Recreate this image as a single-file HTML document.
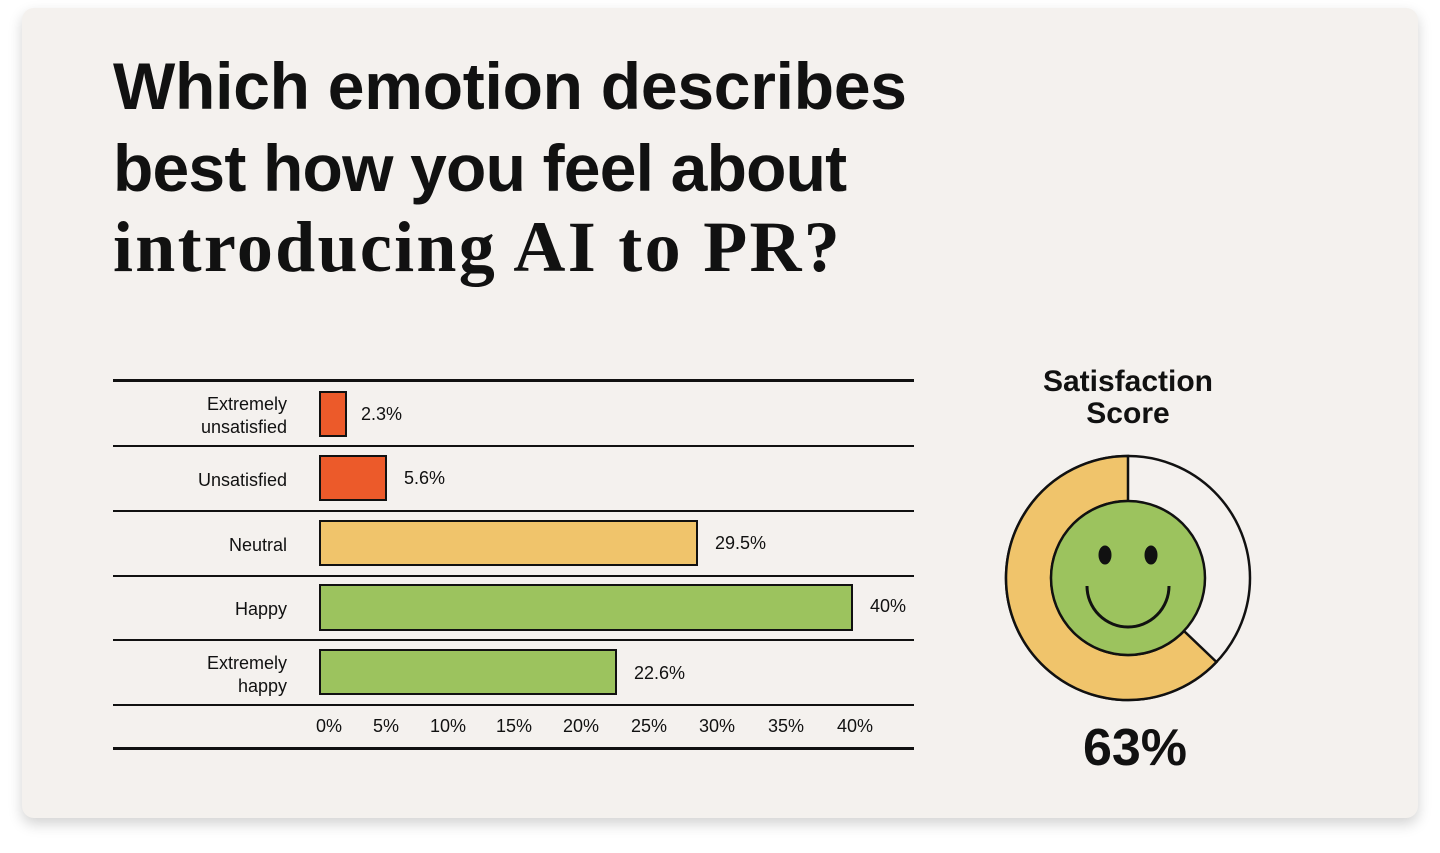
<!DOCTYPE html>
<html><head><style>
body{margin:0;width:1440px;height:853px;background:#fff;font-family:"Liberation Sans",sans-serif;overflow:hidden}
.card{position:absolute;left:22px;top:8px;width:1396px;height:810px;background:#f4f1ee;border-radius:12px;box-shadow:0 6px 14px rgba(0,0,0,0.18)}
.t{position:absolute;left:113px;font-weight:bold;color:#111;white-space:nowrap}
.l{position:absolute;font-size:18px;color:#111;text-align:right;right:1153px;line-height:23px}
.v{position:absolute;font-size:18px;color:#111}
.x{position:absolute;top:716px;font-size:18px;color:#111;transform:translateX(-50%)}
.hl{position:absolute;left:113px;width:801px;background:#111}
.bar{position:absolute;left:319px;border:2px solid #111;box-sizing:border-box}
</style></head><body>
<div class="card"></div>
<div class="t" style="top:48px;font-size:66px;letter-spacing:-0.25px">Which emotion describes</div>
<div class="t" style="top:130px;font-size:66px;letter-spacing:-0.8px">best how you feel about</div>
<div class="t" style="top:206px;font-size:72px;font-family:'Liberation Serif',serif;letter-spacing:2.3px">introducing AI to PR?</div>

<div class="hl" style="top:379px;height:3px"></div>
<div class="hl" style="top:445px;height:2px"></div>
<div class="hl" style="top:510px;height:2px"></div>
<div class="hl" style="top:575px;height:2px"></div>
<div class="hl" style="top:639px;height:2px"></div>
<div class="hl" style="top:704px;height:2px"></div>
<div class="hl" style="top:747px;height:3px"></div>

<div class="l" style="top:393px">Extremely<br>unsatisfied</div>
<div class="l" style="top:469px">Unsatisfied</div>
<div class="l" style="top:534px">Neutral</div>
<div class="l" style="top:598px">Happy</div>
<div class="l" style="top:652px">Extremely<br>happy</div>

<div class="bar" style="top:391px;height:46px;width:28px;background:#ec5a2a"></div>
<div class="bar" style="top:455px;height:46px;width:68px;background:#ec5a2a"></div>
<div class="bar" style="top:520px;height:46px;width:379px;background:#f0c46b"></div>
<div class="bar" style="top:584px;height:47px;width:534px;background:#9cc35e"></div>
<div class="bar" style="top:649px;height:46px;width:298px;background:#9cc35e"></div>

<div class="v" style="left:361px;top:404px">2.3%</div>
<div class="v" style="left:404px;top:468px">5.6%</div>
<div class="v" style="left:715px;top:533px">29.5%</div>
<div class="v" style="left:870px;top:596px">40%</div>
<div class="v" style="left:634px;top:663px">22.6%</div>

<div class="x" style="left:329px">0%</div>
<div class="x" style="left:386px">5%</div>
<div class="x" style="left:448px">10%</div>
<div class="x" style="left:514px">15%</div>
<div class="x" style="left:581px">20%</div>
<div class="x" style="left:649px">25%</div>
<div class="x" style="left:717px">30%</div>
<div class="x" style="left:786px">35%</div>
<div class="x" style="left:855px">40%</div>

<div style="position:absolute;left:1028px;width:200px;top:366px;text-align:center;font-size:30px;font-weight:bold;line-height:32px;color:#111">Satisfaction<br>Score</div>
<svg style="position:absolute;left:0;top:0" width="1440" height="853">
<circle cx="1128" cy="578" r="122" fill="#f4f1ee" stroke="#111" stroke-width="2.5"/>
<path d="M1128 456 A122 122 0 1 0 1216.5 662 L1184 631 A77 77 0 1 1 1128 501 Z" fill="#f0c46b" stroke="#111" stroke-width="2.5"/>
<circle cx="1128" cy="578" r="77" fill="#9cc35e" stroke="#111" stroke-width="2.5"/>
<ellipse cx="1105" cy="555" rx="6.5" ry="9.5" fill="#111"/>
<ellipse cx="1151" cy="555" rx="6.5" ry="9.5" fill="#111"/>
<path d="M1087 586 A41 41 0 0 0 1169 586" fill="none" stroke="#111" stroke-width="3"/>
</svg>
<div style="position:absolute;left:1035px;width:200px;top:718px;text-align:center;font-size:52px;font-weight:bold;color:#111">63%</div>
</body></html>
